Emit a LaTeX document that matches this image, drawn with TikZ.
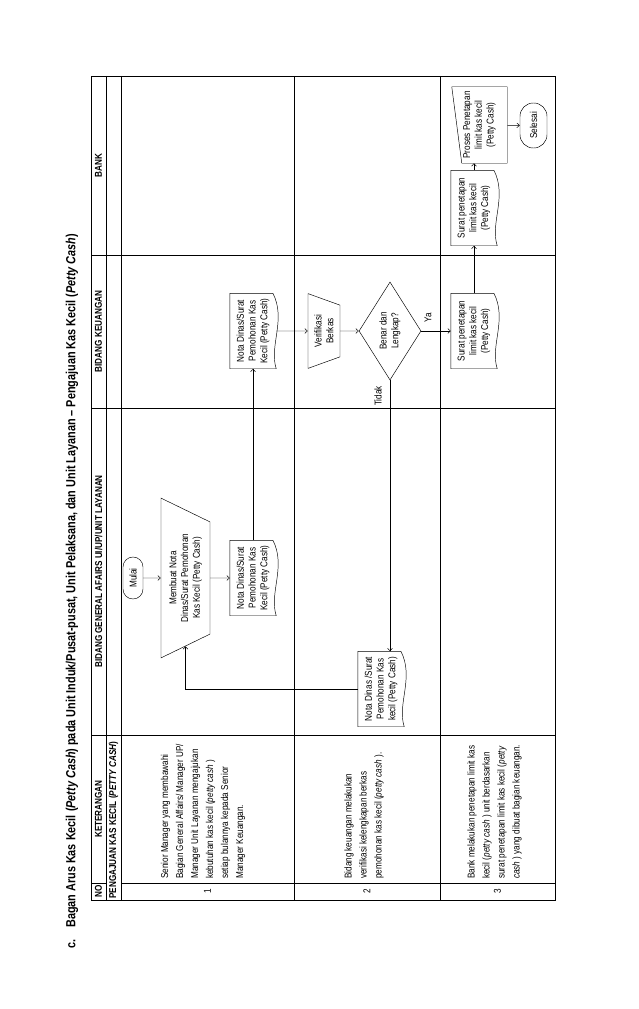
\documentclass[tikz,border=0pt]{standalone}
\usepackage{fontspec}
\setmainfont{Liberation Sans}[FakeStretch=0.82]
\usepackage{tikz}
\usetikzlibrary{arrows.meta,positioning,shapes.geometric,calc}
\newcommand{\pc}{\textit{petty cash}}
\newcommand{\wavy}[1]{\draw (#1.south west) -- (#1.north west) -- (#1.north east) -- ($(#1.south east)!1mm!(#1.north east)$)
 .. controls ($(#1.south west)!0.65!(#1.south east)+0.22*(#1.south)-0.22*(#1.north)$) and ($(#1.south west)!0.3!(#1.south east)-0.16*(#1.south)+0.16*(#1.north)$) .. (#1.south west) -- cycle;}

\begin{document}
\begin{tikzpicture}[x=0.3mm,y=-0.3mm,>={Straight Barb[length=2.2pt,width=4pt]},font=\fontsize{8.5}{10}\selectfont]
\tikzset{
 t/.style={rotate=90,inner sep=0pt,align=center},
 term/.style={t,draw,rounded corners=3mm,minimum width=12.6mm,minimum height=6mm},
 op/.style={t,draw,trapezium,shape border rotate=180,trapezium stretches=true},
 doc/.style={t,minimum width=22.5mm,minimum height=13.8mm},
 inp/.style={t,minimum width=22.8mm,minimum height=16.5mm},
 dec/.style={t,draw,diamond,aspect=1.58,minimum width=29.4mm,minimum height=18.6mm},
 hd/.style={t,font=\fontsize{8.5}{10}\selectfont\bfseries},
 ds/.style={t,anchor=west,align=left,font=\fontsize{8.5}{12.8}\selectfont},
 a/.style={->,line width=0.4pt}
}
\useasboundingbox[fill=white] (0,0) rectangle (638,1009);
% judul
\node[t,anchor=west,font=\fontsize{11.3}{13}\selectfont\bfseries] (judul) at (72,949) {c.\hspace{0.9em}Bagan Arus Kas Kecil (\textit{Petty Cash}) pada Unit Induk/Pusat-pusat, Unit Pelaksana, dan Unit Layanan -- Pengajuan Kas Kecil (\textit{Petty Cash})};
% tabel
\draw[line width=0.5pt] (91,76) rectangle (555,900);
\foreach \r in {106,121,294,440}{\draw (\r,76) -- (\r,900);}
\foreach \c in {735,408,255}{\draw (91,\c) -- (555,\c);}
\draw (91,883) -- (106,883) (121,883) -- (555,883);
\node[hd,anchor=west] (hno) at (98.5,898) {NO};
\node[hd] (hket) at (98.5,809) {KETERANGAN};
\node[hd] (hbga) at (98.5,571.5) {BIDANG GENERAL AFAIRS UI/UP/UNIT LAYANAN};
\node[hd] (hbk) at (98.5,331.5) {BIDANG KEUANGAN};
\node[hd] (hbank) at (98.5,165.5) {BANK};
\node[hd,anchor=west] (hpkk) at (113.5,899) {PENGAJUAN KAS KECIL (\textit{PETTY CASH})};
\foreach \i/\p in {1/207.5,2/367,3/497.5}{\node[t] (no\i) at (\p,891.5) {\i};}
\node[ds] (ket1) at (203,879) {Senior Manager yang membawahi\\Bagian General Affairs/ Manager UP/\\Manager Unit Layanan mengajukan\\kebutuhan kas kecil (\pc{} )\\setiap bulannya kepada Senior\\Manager Keuangan.};
\node[ds] (ket2) at (364,879) {Bidang keuangan melakukan\\verifikasi kelengkapan berkas\\pemohonan kas kecil (\pc{} ).};
\node[ds] (ket3) at (494.5,879) {Bank melakukan penetapan limit kas\\kecil (\pc{} ) unit berdasarkan\\surat penetapan limit kas kecil (\textit{petty}\\\textit{cash} ) yang dibuat bagian keuangan.};
% alur
\node[term] (mulai) at (133,578) {Mulai};
\node[op,trapezium angle=60,minimum width=48mm,minimum height=14.7mm] (buat) at (185.5,578) {Membuat Nota\\Dinas/Surat Pemohonan\\Kas Kecil (Petty Cash)};
\node[doc] (nd1) at (253,578) {Nota Dinas/Surat\\Pemohonan Kas\\Kecil (Petty Cash)};
\node[doc] (nd2) at (253,331) {Nota Dinas/Surat\\Pemohonan Kas\\Kecil (Petty Cash)};
\node[op,trapezium angle=69,minimum width=22.5mm,minimum height=9.6mm] (verif) at (324,331) {Verifikasi\\Berkas};
\node[dec] (cek) at (390,331) {Benar dan\\Lengkap?};
\node[doc] (ndr) at (381,689) {Nota Dinas /Surat\\Pemohonan Kas\\kecil (Petty Cash)};
\node[doc] (nd3) at (474,331) {Surat penetapan\\limit kas kecil\\(Petty Cash)};
\node[doc] (nd4) at (474,208) {Surat penetapan\\limit kas kecil\\(Petty Cash)};
\node[inp] (proses) at (479.5,125) {Proses Penetapan\\limit kas kecil\\(Petty Cash)};
\node[term,rounded corners=4mm,minimum width=13.5mm,minimum height=8.1mm] (selesai) at (533.5,125.5) {Selesai};
\node[t] (ya) at (428,318) {Ya};
\node[t] (tidak) at (378,396) {Tidak};
\foreach \d in {nd1,nd2,ndr,nd3,nd4}{\wavy{\d}}
\draw (proses.south west) -- ($(proses.north west)!3mm!(proses.south west)$) -- (proses.north east) -- (proses.south east) -- cycle;
\foreach \i/\j in {mulai/buat,buat/nd1,nd1/nd2,nd2/verif,verif/cek,cek/nd3,nd3/nd4,proses/selesai}{\draw[a] (\i)--(\j);}
\draw[a] (cek.west) -- (cek.west |- ndr.east);
\draw[a] (ndr.north) -| (buat.west);
\draw[a] (nd4.east) -- (nd4.east |- proses.west);
\end{tikzpicture}
\end{document}
